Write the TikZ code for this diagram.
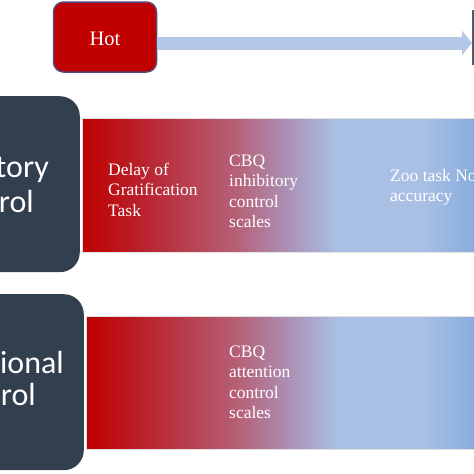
\documentclass[tikz,border=0pt]{standalone}
\usepackage{fontspec}
\setmainfont{Liberation Serif}
\newfontfamily\calibri{Carlito}
\usetikzlibrary{arrows.meta}
\definecolor{hotred}{RGB}{192,0,0}
\definecolor{hotedge}{RGB}{84,72,122}
\definecolor{slate}{RGB}{50,63,79}
\definecolor{coldblue}{RGB}{180,199,231}
\definecolor{redmix}{RGB}{186,32,42}
\definecolor{mauve}{RGB}{182,95,118}
\definecolor{lilac}{RGB}{172,142,178}
\definecolor{paleblue}{RGB}{170,191,228}
\definecolor{deepblue}{RGB}{130,170,220}
\pgfdeclarehorizontalshading{hotcold}{100bp}{color(0bp)=(hotred); color(25bp)=(hotred);
  color(32bp)=(redmix); color(44bp)=(mauve); color(50.3bp)=(lilac);
  color(56.6bp)=(paleblue); color(67.5bp)=(paleblue); color(75bp)=(deepblue);
  color(100bp)=(deepblue)}
\begin{document}
\begin{tikzpicture}[x=1pt,y=-1pt,
    hotbox/.style={draw=hotedge, line width=1.5pt, fill=hotred, rounded corners=10pt,
      text=white, font=\fontsize{20.5}{24}\selectfont},
    ctrl/.style={fill=slate, rounded corners=20pt, inner sep=0pt},
    band/.style={draw=black!12, line width=0.8pt, shading=hotcold, inner sep=0pt},
    big/.style={text=white, inner sep=0pt, font=\calibri\fontsize{32}{35}\selectfont},
    lbl/.style={text=white, align=left, inner sep=0pt, font=\fontsize{17.5}{20.5}\selectfont},
    flow/.style={coldblue, line width=13pt, -{Triangle[width=24pt,length=10pt]}}]
   \clip (0,0) rectangle (474,474);
   % top scale
   \node[hotbox, minimum width=103pt, minimum height=70pt] (Hot) at (105,37) {};
   \node[text=white, inner sep=0pt, font=\fontsize{20.5}{24}\selectfont, anchor=base] (HotT)
     at (105,45) {Hot};
   \node[fill=slate!85!white, minimum width=80pt, minimum height=55pt, inner sep=0pt,
     anchor=north west] (Cold) at (472,10) {};
   \coordinate (Tip) at (472,43);
   \draw[flow] (Hot.east |- Tip) -- (Tip);
   % inhibitory row
   \node[ctrl, minimum width=190pt, minimum height=176pt, anchor=north east] (IC) at (80,96) {};
   \node[big, anchor=base east] (IC1) at (49,177) {tory};
   \node[big, anchor=base east] (IC2) at (34,212) {rol};
   \node[band, minimum width=400pt, minimum height=134pt, anchor=north west] (IB) at (82,118) {};
   \node[lbl, anchor=base west] (DG) at (108,216) {Delay of\\Gratification\\Task};
   \node[lbl, anchor=base west] (CI) at (229,227.5) {CBQ\\inhibitory\\control\\scales};
   \node[lbl, anchor=base west] (Zoo) at (390,201.5) {Zoo task No\\accuracy};
   % attentional row
   \node[ctrl, minimum width=190pt, minimum height=176pt, anchor=north east] (AC) at (84,294) {};
   \node[big, anchor=base east] (AC1) at (64,373) {ional};
   \node[big, anchor=base east] (AC2) at (36,405) {rol};
   \node[band, minimum width=396pt, minimum height=133pt, anchor=north west] (AB) at (86,316) {};
   \node[lbl, anchor=base west] (CA) at (229,418.5) {CBQ\\attention\\control\\scales};
\end{tikzpicture}
\end{document}
